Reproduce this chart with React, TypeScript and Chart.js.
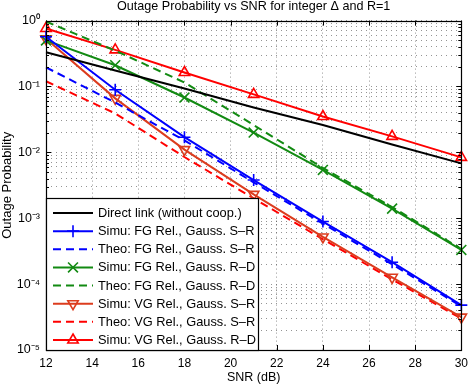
import React, { useEffect, useRef } from 'react';
import { Chart, registerables } from 'chart.js';

Chart.register(...registerables);

const FONT = '"Liberation Sans", Arial, Helvetica, sans-serif';

const chartTitle = 'Outage Probability vs SNR for integer Δ and R=1';
const xTitle = 'SNR (dB)';
const yTitle = 'Outage Probability';

const snr = [12, 15, 18, 21, 24, 27, 30];
const xTickValues = [12, 14, 16, 18, 20, 22, 24, 26, 28, 30];
const yDecadeExponents = [-5, -4, -3, -2, -1, 0];

const directLink = [0.33, 0.175, 0.093, 0.048, 0.026, 0.0132, 0.0068];
const simuFgSR = [0.57, 0.089, 0.017, 0.0038, 0.00089, 0.000215, 0.000048];
const theoFgSR = [0.195, 0.057, 0.0152, 0.0035, 0.00083, 0.0002, 0.000046];
const simuFgRD = [0.5, 0.21, 0.068, 0.02, 0.0054, 0.0014, 0.00033];
const theoFgRD = [0.97, 0.35, 0.115, 0.026, 0.0058, 0.00148, 0.00034];
const simuVgSR = [0.53, 0.066, 0.011, 0.0023, 0.00052, 0.000127, 0.0000316];
const theoVgSR = [0.12, 0.039, 0.0085, 0.002, 0.00048, 0.000118, 0.00003];
const simuVgRD = [0.76, 0.36, 0.163, 0.076, 0.035, 0.0175, 0.0084];

const seriesLabels = [
  'Direct link (without coop.)',
  'Simu: FG Rel., Gauss. S–R',
  'Theo: FG Rel., Gauss. S–R',
  'Simu: FG Rel., Gauss. R–D',
  'Theo: FG Rel., Gauss. R–D',
  'Simu: VG Rel., Gauss. S–R',
  'Theo: VG Rel., Gauss. S–R',
  'Simu: VG Rel., Gauss. R–D',
];

const BLACK = '#000000';
const BLUE = '#0000ff';
const GREEN = '#128a12';
const ORANGE = '#dc3c1e';
const RED = '#ff0000';

const SUP: Record<string, string> = {
  '0': '⁰', '1': '¹', '2': '²', '3': '³', '4': '⁴', '5': '⁵', '-': '⁻',
};

function isDecade(v: number) {
  const l = Math.log10(v);
  return Math.abs(l - Math.round(l)) < 1e-9;
}

function decadeLabel(v: number) {
  const e = Math.round(Math.log10(v));
  return '10' + String(e).split('').map((c) => SUP[c] || c).join('');
}

function yTickValues() {
  const out: number[] = [];
  for (const e of yDecadeExponents) {
    if (e === 0) {
      out.push(1);
    } else {
      for (let k = 1; k <= 9; k++) out.push(parseFloat((k * Math.pow(10, e)).toPrecision(6)));
    }
  }
  return out;
}

function makeDataset(label: string, data: number[], color: string, opts: any = {}) {
  return {
    label,
    data: snr.map((x, i) => ({ x, y: data[i] })),
    borderColor: color,
    backgroundColor: color,
    borderWidth: 2,
    pointRadius: 0,
    pointHoverRadius: 0,
    pointBorderColor: color,
    pointBackgroundColor: 'rgba(0,0,0,0)',
    pointBorderWidth: 1.6,
    tension: 0,
    clip: false as any,
    ...opts,
  };
}

function drawMarker(ctx: CanvasRenderingContext2D, style: string, x: number, y: number, r: number, rot: number, color: string, lw: number) {
  if (!style || r <= 0) return;
  ctx.save();
  ctx.strokeStyle = color;
  ctx.lineWidth = lw;
  ctx.setLineDash([]);
  ctx.beginPath();
  if (style === 'cross') {
    ctx.moveTo(x - r, y);
    ctx.lineTo(x + r, y);
    ctx.moveTo(x, y - r);
    ctx.lineTo(x, y + r);
  } else if (style === 'crossRot') {
    const d = r * Math.SQRT1_2;
    ctx.moveTo(x - d, y - d);
    ctx.lineTo(x + d, y + d);
    ctx.moveTo(x - d, y + d);
    ctx.lineTo(x + d, y - d);
  } else if (style === 'triangle') {
    let a = (rot * Math.PI) / 180;
    ctx.moveTo(x + Math.sin(a) * r, y - Math.cos(a) * r);
    a += (2 * Math.PI) / 3;
    ctx.lineTo(x + Math.sin(a) * r, y - Math.cos(a) * r);
    a += (2 * Math.PI) / 3;
    ctx.lineTo(x + Math.sin(a) * r, y - Math.cos(a) * r);
    ctx.closePath();
  }
  ctx.stroke();
  ctx.restore();
}

const matlabPlugin = {
  id: 'matlabFrameLegend',
  afterDraw(chart: any) {
    const { ctx, chartArea } = chart;
    const { left, right, top, bottom } = chartArea;
    const xs = chart.scales.x;
    const ys = chart.scales.y;

    ctx.save();
    ctx.strokeStyle = '#000';
    ctx.lineWidth = 1;
    ctx.setLineDash([]);
    ctx.beginPath();
    for (const v of xTickValues) {
      const px = Math.round(xs.getPixelForValue(v)) + 0.5;
      ctx.moveTo(px, bottom);
      ctx.lineTo(px, bottom - 5);
      ctx.moveTo(px, top);
      ctx.lineTo(px, top + 5);
    }
    for (const v of yTickValues()) {
      const py = Math.round(ys.getPixelForValue(v)) + 0.5;
      const len = isDecade(v) ? 5 : 3;
      ctx.moveTo(left, py);
      ctx.lineTo(left + len, py);
      ctx.moveTo(right, py);
      ctx.lineTo(right - len, py);
    }
    ctx.stroke();
    ctx.lineWidth = 1.2;
    ctx.strokeRect(Math.round(left) + 0.5, Math.round(top) + 0.5, Math.round(right - left), Math.round(bottom - top));

    const lgLeft = Math.round(left) + 0.5;
    const lgTop = 198.5;
    const lgW = 212;
    const lgH = Math.round(bottom) - 198;
    ctx.fillStyle = '#ffffff';
    ctx.fillRect(lgLeft, lgTop, lgW, lgH);
    ctx.strokeStyle = '#000';
    ctx.lineWidth = 1.2;
    ctx.strokeRect(lgLeft, lgTop, lgW, lgH);

    ctx.font = '12.8px ' + FONT;
    ctx.textBaseline = 'middle';
    ctx.textAlign = 'left';
    chart.data.datasets.forEach((ds: any, i: number) => {
      const y = 213 + i * 18.14;
      const x0 = left + 7;
      const x1 = left + 47;
      ctx.save();
      ctx.strokeStyle = ds.borderColor;
      ctx.lineWidth = ds.borderWidth;
      ctx.setLineDash(ds.borderDash || []);
      ctx.beginPath();
      ctx.moveTo(x0, y);
      ctx.lineTo(x1, y);
      ctx.stroke();
      ctx.restore();
      if (ds.pointRadius > 0) {
        drawMarker(ctx, ds.pointStyle, (x0 + x1) / 2, y, ds.pointRadius, ds.pointRotation || 0, ds.pointBorderColor, ds.pointBorderWidth);
      }
      ctx.fillStyle = '#000';
      ctx.fillText(ds.label, left + 52, y + 0.5);
    });
    ctx.restore();
  },
};

export default function App() {
  const ref = useRef<HTMLCanvasElement>(null);

  useEffect(() => {
    if (!ref.current) return;
    const datasets = [
      makeDataset(seriesLabels[0], directLink, BLACK),
      makeDataset(seriesLabels[1], simuFgSR, BLUE, { pointRadius: 6, pointStyle: 'cross' }),
      makeDataset(seriesLabels[2], theoFgSR, BLUE, { borderDash: [8, 5] }),
      makeDataset(seriesLabels[3], simuFgRD, GREEN, { pointRadius: 7, pointStyle: 'crossRot' }),
      makeDataset(seriesLabels[4], theoFgRD, GREEN, { borderDash: [8, 5] }),
      makeDataset(seriesLabels[5], simuVgSR, ORANGE, { pointRadius: 6, pointStyle: 'triangle', pointRotation: 180 }),
      makeDataset(seriesLabels[6], theoVgSR, RED, { borderDash: [8, 5] }),
      makeDataset(seriesLabels[7], simuVgRD, RED, { pointRadius: 6, pointStyle: 'triangle', pointRotation: 0 }),
    ];

    const chart = new Chart(ref.current, {
      type: 'line',
      data: { datasets } as any,
      plugins: [matlabPlugin as any],
      options: {
        animation: false,
        responsive: false,
        maintainAspectRatio: false,
        layout: { padding: { left: 0, right: 7, top: 0, bottom: 0 } },
        plugins: {
          legend: { display: false },
          tooltip: { enabled: false },
          title: {
            display: true,
            text: chartTitle,
            fullSize: false,
            color: '#000',
            font: { family: FONT, size: 12.6, weight: 'normal', lineHeight: 1 },
            padding: { top: 0, bottom: 8 },
          },
        },
        scales: {
          x: {
            type: 'linear',
            min: 12,
            max: 30,
            afterBuildTicks: (s: any) => {
              s.ticks = xTickValues.map((v) => ({ value: v }));
            },
            afterFit: (s: any) => {
              s.height = 36;
            },
            ticks: {
              autoSkip: false,
              maxRotation: 0,
              color: '#000',
              font: { family: FONT, size: 12 },
              padding: 6,
            },
            grid: { color: 'rgba(0,0,0,0.42)', lineWidth: 1, drawTicks: false },
            border: { display: false, dash: [1, 3] },
            title: {
              display: true,
              text: xTitle,
              color: '#000',
              font: { family: FONT, size: 12.5 },
              padding: { top: 0, bottom: 1 },
            },
          },
          y: {
            type: 'logarithmic',
            min: 1e-5,
            max: 1,
            afterBuildTicks: (s: any) => {
              s.ticks = yTickValues().map((v) => ({ value: v, major: isDecade(v) }));
            },
            afterFit: (s: any) => {
              s.width = 46;
            },
            ticks: {
              autoSkip: false,
              color: '#000',
              font: { family: FONT, size: 12.5 },
              padding: 6,
              callback: (value: any) => (isDecade(Number(value)) ? decadeLabel(Number(value)) : ''),
            },
            grid: { color: 'rgba(0,0,0,0.42)', lineWidth: 1, drawTicks: false },
            border: { display: false, dash: [1, 4] },
            title: {
              display: true,
              text: yTitle,
              color: '#000',
              font: { family: FONT, size: 13 },
              padding: { top: 0, bottom: 0 },
            },
          },
        },
      } as any,
    });
    return () => chart.destroy();
  }, []);

  return (
    <div style={{ position: 'absolute', left: 0, top: 0, width: 474, height: 386, background: '#fff' }}>
      <canvas ref={ref} width={474} height={386} style={{ display: 'block', width: 474, height: 386 }} />
    </div>
  );
}
